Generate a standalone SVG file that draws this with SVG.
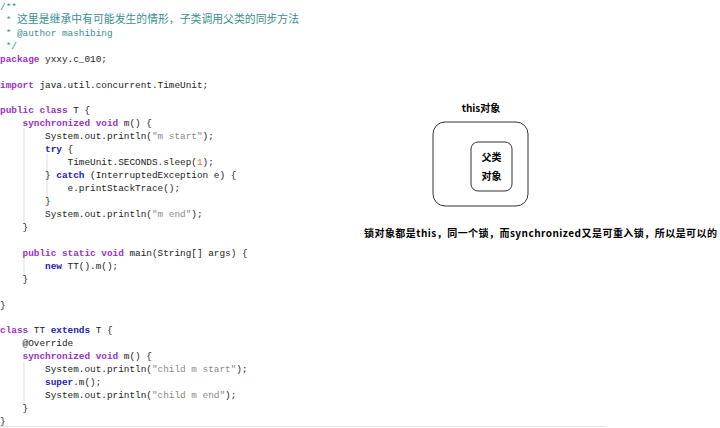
<svg xmlns="http://www.w3.org/2000/svg" width="720" height="428" viewBox="0 0 720 428">
<style>
.c{font-family:"Liberation Mono","Noto Sans CJK SC",monospace;font-size:9.4px;fill:#222;white-space:pre}
.cm{fill:#3a8f8f}.kw{fill:#9a30c8;font-weight:bold}.kb{fill:#2020c0;font-weight:bold}.s{fill:#8a8a8a}.n{fill:#e07020}
.g{stroke:#ddd;stroke-width:1}
.lb{font-family:"Noto Sans CJK SC","Liberation Sans",sans-serif;font-weight:bold;font-size:10px;fill:#000}
.box{fill:#fff;stroke:#333;stroke-width:1}
</style>
<rect width="720" height="428" fill="#fff"/>
<g id="code">
<g class="g"><line x1="24" y1="128" x2="24" y2="224"/><line x1="47" y1="154" x2="47" y2="198"/><line x1="24" y1="258" x2="24" y2="276"/><line x1="24" y1="362" x2="24" y2="404"/></g>
<text class="c" x="0" y="10"><tspan class="cm">/**</tspan></text>
<text class="c cm" x="0" y="23"> * <tspan font-size="10.8" textLength="282" x="17">这里是继承中有可能发生的情形，子类调用父类的同步方法</tspan></text>
<text class="c" x="0" y="36"><tspan class="cm"> * @author mashibing</tspan></text>
<text class="c" x="0" y="49"><tspan class="cm"> */</tspan></text>
<text class="c" x="0" y="62"><tspan class="kw">package</tspan> yxxy.c_010;</text>
<text class="c" x="0" y="88"><tspan class="kw">import</tspan> java.util.concurrent.TimeUnit;</text>
<text class="c" x="0" y="113"><tspan class="kw">public class</tspan> T {</text>
<text class="c" x="0" y="126">    <tspan class="kw">synchronized void</tspan> m() {</text>
<text class="c" x="0" y="139">        System.out.println(<tspan class="s">"m start"</tspan>);</text>
<text class="c" x="0" y="152">        <tspan class="kb">try</tspan> {</text>
<text class="c" x="0" y="165">            TimeUnit.SECONDS.sleep(<tspan class="n">1</tspan>);</text>
<text class="c" x="0" y="178">        } <tspan class="kb">catch</tspan> (InterruptedException e) {</text>
<text class="c" x="0" y="191">            e.printStackTrace();</text>
<text class="c" x="0" y="204">        }</text>
<text class="c" x="0" y="217">        System.out.println(<tspan class="s">"m end"</tspan>);</text>
<text class="c" x="0" y="230">    }</text>
<text class="c" x="0" y="256">    <tspan class="kw">public static void</tspan> main(String[] args) {</text>
<text class="c" x="0" y="269">        <tspan class="kb">new</tspan> TT().m();</text>
<text class="c" x="0" y="282">    }</text>
<text class="c" x="0" y="308">}</text>
<text class="c" x="0" y="333"><tspan class="kw">class</tspan> TT <tspan class="kb">extends</tspan> T {</text>
<text class="c" x="0" y="346">    @Override</text>
<text class="c" x="0" y="359">    <tspan class="kw">synchronized void</tspan> m() {</text>
<text class="c" x="0" y="372">        System.out.println(<tspan class="s">"child m start"</tspan>);</text>
<text class="c" x="0" y="385">        <tspan class="kb">super</tspan>.m();</text>
<text class="c" x="0" y="398">        System.out.println(<tspan class="s">"child m end"</tspan>);</text>
<text class="c" x="0" y="411">    }</text>
<text class="c" x="0" y="424">}</text>
<line x1="0" y1="426.5" x2="605" y2="426.5" stroke="#e4e4e4"/>
</g>
<g id="this-obj">
<text class="lb" x="481" y="112" text-anchor="middle">this对象</text>
<rect class="box" x="433" y="122" width="95" height="84" rx="12"/>
</g>
<g id="parent-obj">
<rect class="box" x="471" y="142" width="41" height="49" rx="7"/>
<text class="lb" x="491.5" y="161" text-anchor="middle">父类</text>
<text class="lb" x="491.5" y="180" text-anchor="middle">对象</text>
</g>
<g id="note">
<text class="lb" x="364" y="237" textLength="353" lengthAdjust="spacing">锁对象都是this，同一个锁，而synchronized又是可重入锁，所以是可以的</text>
</g>
</svg>
